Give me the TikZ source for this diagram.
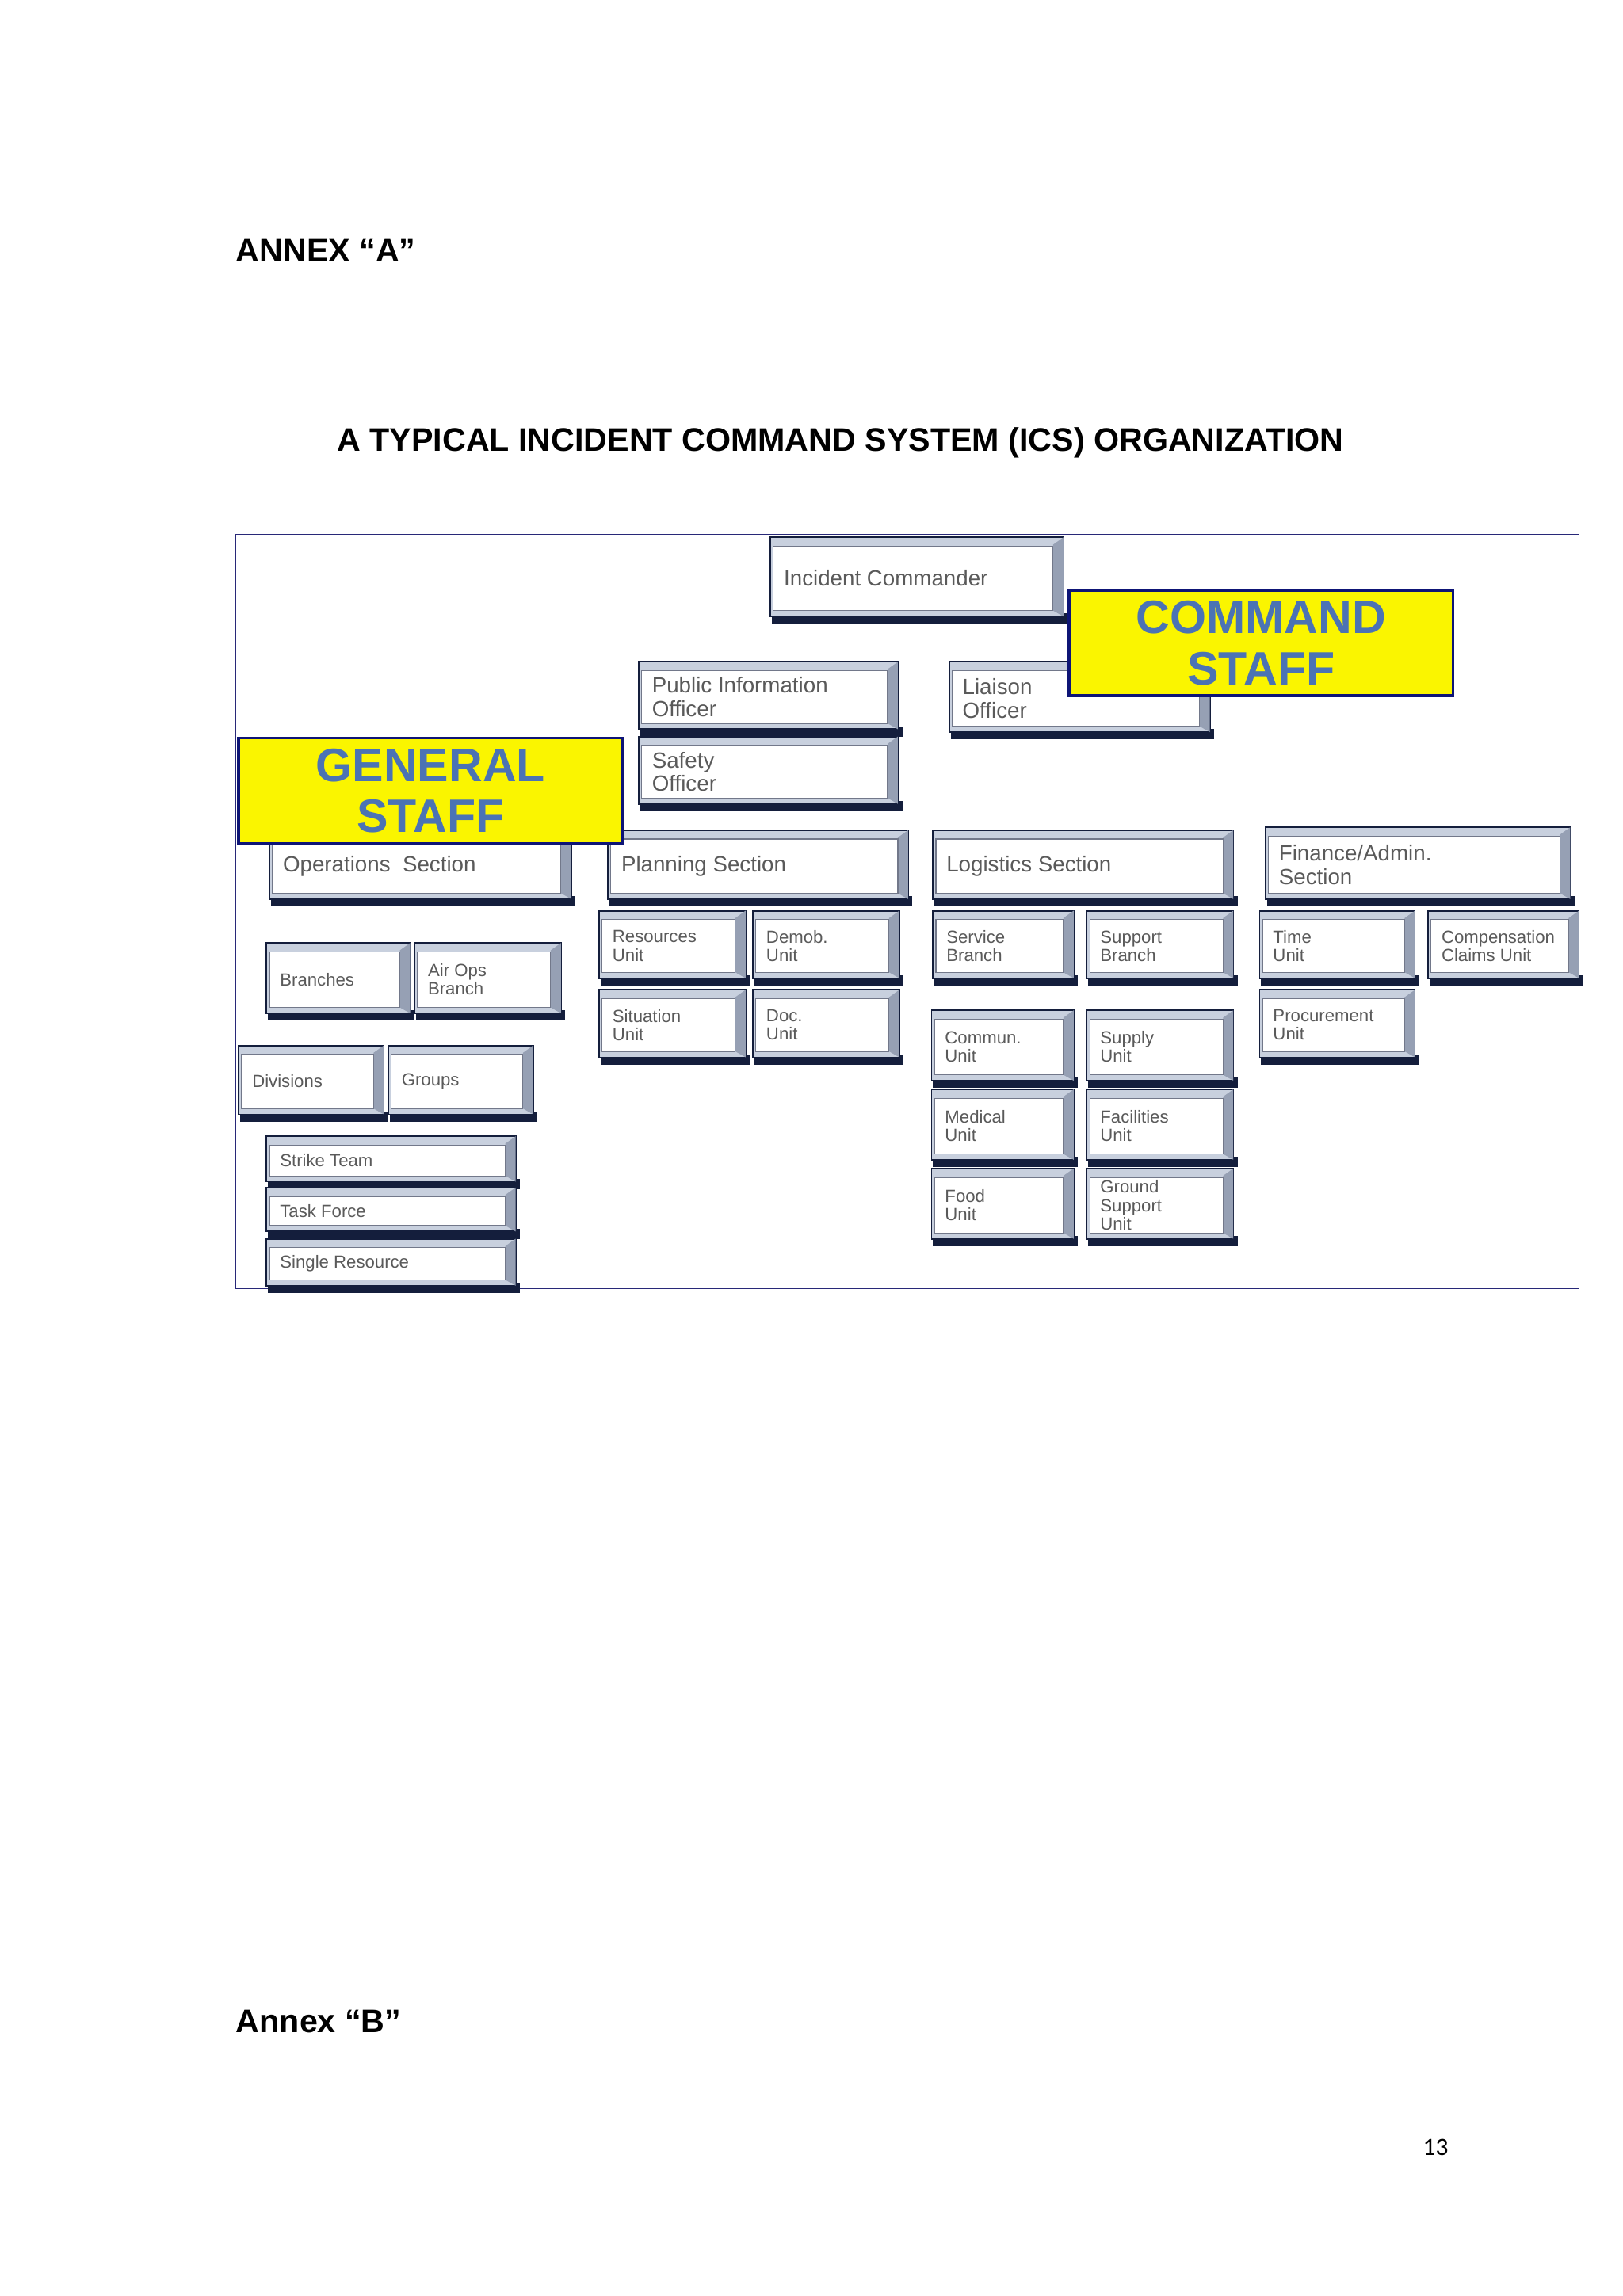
\documentclass[tikz,border=0pt]{standalone}
\usepackage{fontspec}
\setmainfont{Liberation Sans}
\newfontfamily\calib{Carlito}
\definecolor{navy}{RGB}{20,30,60}
\definecolor{bev}{RGB}{200,208,222}
\definecolor{bevd}{RGB}{150,160,180}
\definecolor{txt}{RGB}{90,90,90}
\definecolor{ybox}{RGB}{250,245,0}
\definecolor{stxt}{RGB}{75,115,180}
\definecolor{frame}{RGB}{40,40,120}
\tikzset{lbl/.style={anchor=west,align=left,text=txt,inner sep=0pt},
  big/.style={font=\fontsize{15}{16}\selectfont},
  sml/.style={font=\fontsize{12}{12.5}\selectfont},
  head/.style={anchor=base west,inner sep=0pt,font=\bfseries\fontsize{22.3}{24}\selectfont},
  staff/.style={draw=navy!70!blue,line width=2pt,fill=ybox},
  stafftxt/.style={align=center,text=stxt,font=\bfseries\fontsize{32}{35}\selectfont}}
% #1 name #2 x1 #3 y1 #4 x2 #5 y2 #6 style #7 text
\newcommand\bx[7]{%
  \fill[navy] ({#2+1},{-#5+4}) rectangle ({#4+3},{-#5-3});
  \fill[bev,draw=navy,line width=1pt] (#2,-#3) rectangle (#4,{-#5+2});
  \fill[bevd] ({#4-7},{-#3-5}) -- (#4,-#3) -- (#4,{-#5+2}) -- ({#4-7},{-#5+6}) -- cycle;
  \fill[white,draw=navy!60,line width=0.6pt] ({#2+2},{-#3-6}) rectangle ({#4-7},{-#5+6});
  \node[lbl,#6] (#1) at ({#2+9},{-(#3+#5)/2}) {#7};}
\begin{document}
\begin{tikzpicture}[x=1pt,y=1pt]
\useasboundingbox[fill=white] (0,0) rectangle (1108,-1568);
\node[head] (annexa) at (161,-179) {ANNEX “A”};
\node[head] (title) at (230,-308) {A TYPICAL INCIDENT COMMAND SYSTEM (ICS) ORGANIZATION};
\node[head] (annexb) at (161,-1388) {Annex “B”};
\node[anchor=base west,font=\calib\fontsize{17}{18}\selectfont] (pg) at (968,-1472) {13};
\draw[frame,line width=0.8pt] (1078,-365) -- (161,-365) -- (161,-880) -- (1078,-880);
\bx{ic}{526}{367}{726}{423}{big}{Incident Commander}
\bx{pio}{436}{452}{613}{500}{big}{Public Information\\Officer}
\bx{lo}{648}{452}{826}{502}{big}{Liaison\\Officer}
\bx{so}{436}{503}{613}{551}{big}{Safety\\Officer}
\bx{ops}{184}{567}{390}{616}{big}{Operations\ \ Section}
\bx{plan}{415}{567}{620}{616}{big}{Planning Section}
\bx{log}{637}{567}{842}{616}{big}{Logistics Section}
\bx{fin}{864}{565}{1072}{616}{big}{Finance/Admin.\\Section}
\bx{br}{182}{644}{280}{694}{sml}{Branches}
\bx{air}{283}{644}{383}{694}{sml}{Air Ops\\Branch}
\bx{div}{163}{714}{262}{763}{sml}{Divisions}
\bx{grp}{265}{714}{364}{763}{sml}{Groups}
\bx{st}{182}{776}{352}{809}{sml}{Strike Team}
\bx{tf}{182}{811}{352}{843}{sml}{Task Force}
\bx{sr}{182}{846}{352}{880}{sml}{Single Resource}
\bx{res}{409}{622}{509}{670}{sml}{Resources\\Unit}
\bx{dem}{514}{622}{614}{670}{sml}{Demob.\\Unit}
\bx{sit}{409}{676}{509}{724}{sml}{Situation\\Unit}
\bx{doc}{514}{676}{614}{724}{sml}{Doc.\\Unit}
\bx{svc}{637}{622}{733}{670}{sml}{Service\\Branch}
\bx{sup}{742}{622}{842}{670}{sml}{Support\\Branch}
\bx{com}{636}{690}{733}{740}{sml}{Commun.\\Unit}
\bx{spl}{742}{690}{842}{740}{sml}{Supply\\Unit}
\bx{med}{636}{744}{733}{794}{sml}{Medical\\Unit}
\bx{fac}{742}{744}{842}{794}{sml}{Facilities\\Unit}
\bx{food}{636}{798}{733}{848}{sml}{Food\\Unit}
\bx{gsu}{742}{798}{842}{848}{sml}{Ground\\Support\\Unit}
\bx{time}{860}{622}{966}{670}{sml}{Time\\Unit}
\bx{comp}{975}{622}{1078}{670}{sml}{Compensation\\Claims Unit}
\bx{proc}{860}{676}{966}{724}{sml}{Procurement\\Unit}
\draw[staff] (730,-403) rectangle (992,-475);
\node[stafftxt] (cs) at (861,-439) {COMMAND\\STAFF};
\draw[staff] (163,-504) rectangle (425,-576);
\node[stafftxt] (gs) at (294,-540) {GENERAL\\STAFF};
\end{tikzpicture}
\end{document}
